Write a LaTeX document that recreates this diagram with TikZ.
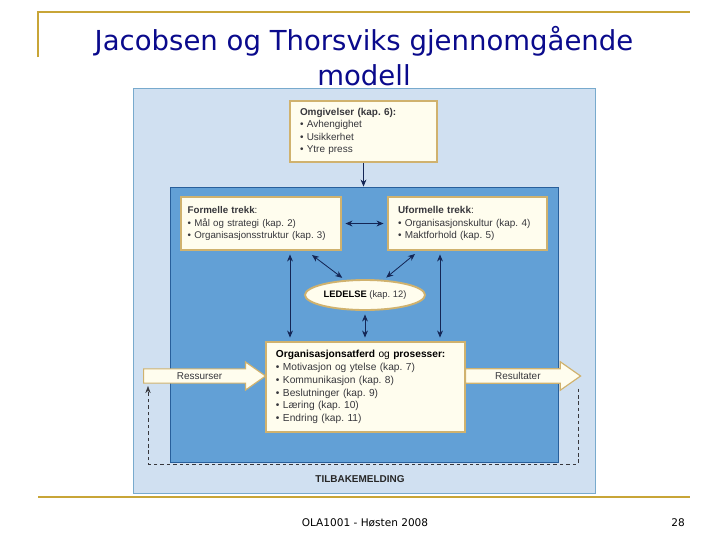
\documentclass[tikz,border=0pt]{standalone}
\usepackage{fontspec}
\setmainfont{Liberation Sans}
\newfontfamily\titlefont{DejaVu Sans}
\usepackage{xcolor}
\usepackage{tikz}
\usetikzlibrary{shapes.geometric, shapes.arrows, arrows.meta, positioning, calc}
\definecolor{TitleBlue}{RGB}{10,10,140}
\definecolor{GoldLine}{RGB}{200,165,55}
\definecolor{PaleBlue}{RGB}{208,224,241}
\definecolor{PaleEdge}{RGB}{120,170,205}
\definecolor{MidBlue}{RGB}{98,160,214}
\definecolor{MidEdge}{RGB}{40,95,155}
\definecolor{Cream}{RGB}{255,253,238}
\definecolor{Tan}{RGB}{208,178,110}
\definecolor{InkNavy}{RGB}{20,38,85}
\definecolor{TextGray}{RGB}{55,55,60}
\frenchspacing

\begin{document}
\begin{tikzpicture}[
  x=0.03cm, y=-0.03cm,
  font=\fontsize{8.5}{10.6}\selectfont,
  box/.style={rectangle, draw=Tan, fill=Cream, line width=1.6pt,
              inner xsep=0.3cm, align=left, text=TextGray},
  oval/.style={ellipse, draw=Tan, fill=Cream, line width=1.6pt,
               minimum width=3.6cm, minimum height=0.9cm, inner sep=0pt, text=TextGray,
               font=\fontsize{8}{10}\selectfont},
  flow/.style={single arrow, draw=Tan, fill=Cream, line width=1pt,
               single arrow head extend=0.21cm, single arrow tip angle=70,
               inner ysep=2.6pt, inner xsep=2pt, text=TextGray},
  twoway/.style={{Stealth[length=6pt,width=5pt]}-{Stealth[length=6pt,width=5pt]}, InkNavy,
                 line width=0.7pt, shorten <=3pt, shorten >=3pt},
  oneway/.style={-{Stealth[length=6pt,width=5pt]}, InkNavy, line width=0.7pt},
  fbline/.style={-{Stealth[length=6pt,width=4.5pt]}, TextGray, dash pattern=on 3pt off 2.5pt,
                 shorten <=4pt, shorten >=2pt},
  goldline/.style={GoldLine, line width=1.8pt}
]
\useasboundingbox[fill=white] (0,0) rectangle (728,546);

% Slide frame
\draw[goldline] (38,57) -- (38,12) -- (690,12);
\draw[goldline] (38,497) -- (690,497);
\node[text=TitleBlue, align=center, font=\titlefont\fontsize{23.5}{29.8}\selectfont] (title) at (364,56)
  {Jacobsen og Thorsviks gjennomgående\\modell};
\node[font=\titlefont\fontsize{9}{11}\selectfont] (foot) at (365,523) {OLA1001 - Høsten 2008};
\node[font=\titlefont\fontsize{9}{11}\selectfont] (page) at (678,523) {28};

% Backgrounds
\node[draw=PaleEdge, fill=PaleBlue, minimum width=13.86cm, minimum height=12.15cm] (env) at (364,290.5) {};
\node[draw=MidEdge, fill=MidBlue, line width=0.8pt, minimum width=11.64cm, minimum height=8.25cm] (org) at (364,324.5) {};

% Boxes
\node[box, text width=3.81cm, minimum height=1.83cm] (omg) at (363.5,131.5)
  {\textbf{Omgivelser (kap. 6):}\\ • Avhengighet\\ • Usikkerhet\\ • Ytre press};
\node[box, text width=4.4cm, inner xsep=0.2cm, minimum height=1.59cm, font=\fontsize{8.3}{10.6}\selectfont] (form) at (261,223.5)
  {\textbf{Formelle trekk}:\\ • Mål og strategi (kap. 2)\\ • Organisasjonsstruktur (kap. 3)};
\node[box, text width=4.17cm, minimum height=1.59cm] (uform) at (467.5,223.5)
  {\textbf{Uformelle trekk}:\\ • Organisasjonskultur (kap. 4)\\ • Maktforhold (kap. 5)};
\node[oval] (led) at (365,295) {\textbf{\color{black}LEDELSE} (kap. 12)};
\node[box, text width=5.37cm, minimum height=2.7cm, font=\fontsize{8.7}{10.9}\selectfont] (proc) at (365.5,387)
  {{\color{black}\textbf{Organisasjonsatferd} og \textbf{prosesser:}}\\
   • Motivasjon og ytelse (kap. 7)\\ • Kommunikasjon (kap. 8)\\ • Beslutninger (kap. 9)\\
   • Læring (kap. 10)\\ • Endring (kap. 11)};

% In and out
\node[flow, minimum height=3.66cm, anchor=tail] (ress) at (143,376) {Ressurser};
\node[flow, minimum height=3.45cm, anchor=tail] (res) at (465,376) {Resultater};
\node[font=\bfseries\fontsize{8.5}{10}\selectfont, text=black!85] (tilb) at (360,479) {TILBAKEMELDING};

% Arrows
\coordinate (lx) at (290,0);
\coordinate (rx) at (440,0);
\coordinate (fl) at (312,255);
\coordinate (fr) at (415,254);
\coordinate (fbl) at (148,464);
\coordinate (fbr) at (578,464);
\draw[oneway] (omg.south) -- (omg.south |- org.north);
\draw[twoway] (form) -- (uform);
\draw[twoway, shorten <=0pt] (fl) -- (led);
\draw[twoway, shorten <=0pt] (fr) -- (led);
\draw[twoway] (led.south) -- (led.south |- proc.north);
\draw[twoway] (lx |- form.south) -- (lx |- proc.north);
\draw[twoway] (rx |- uform.south) -- (rx |- proc.north);
\draw[fbline] (fbr |- res.south) -- (fbr) -- (fbl) -- (fbl |- ress.south);

\end{tikzpicture}
\end{document}
